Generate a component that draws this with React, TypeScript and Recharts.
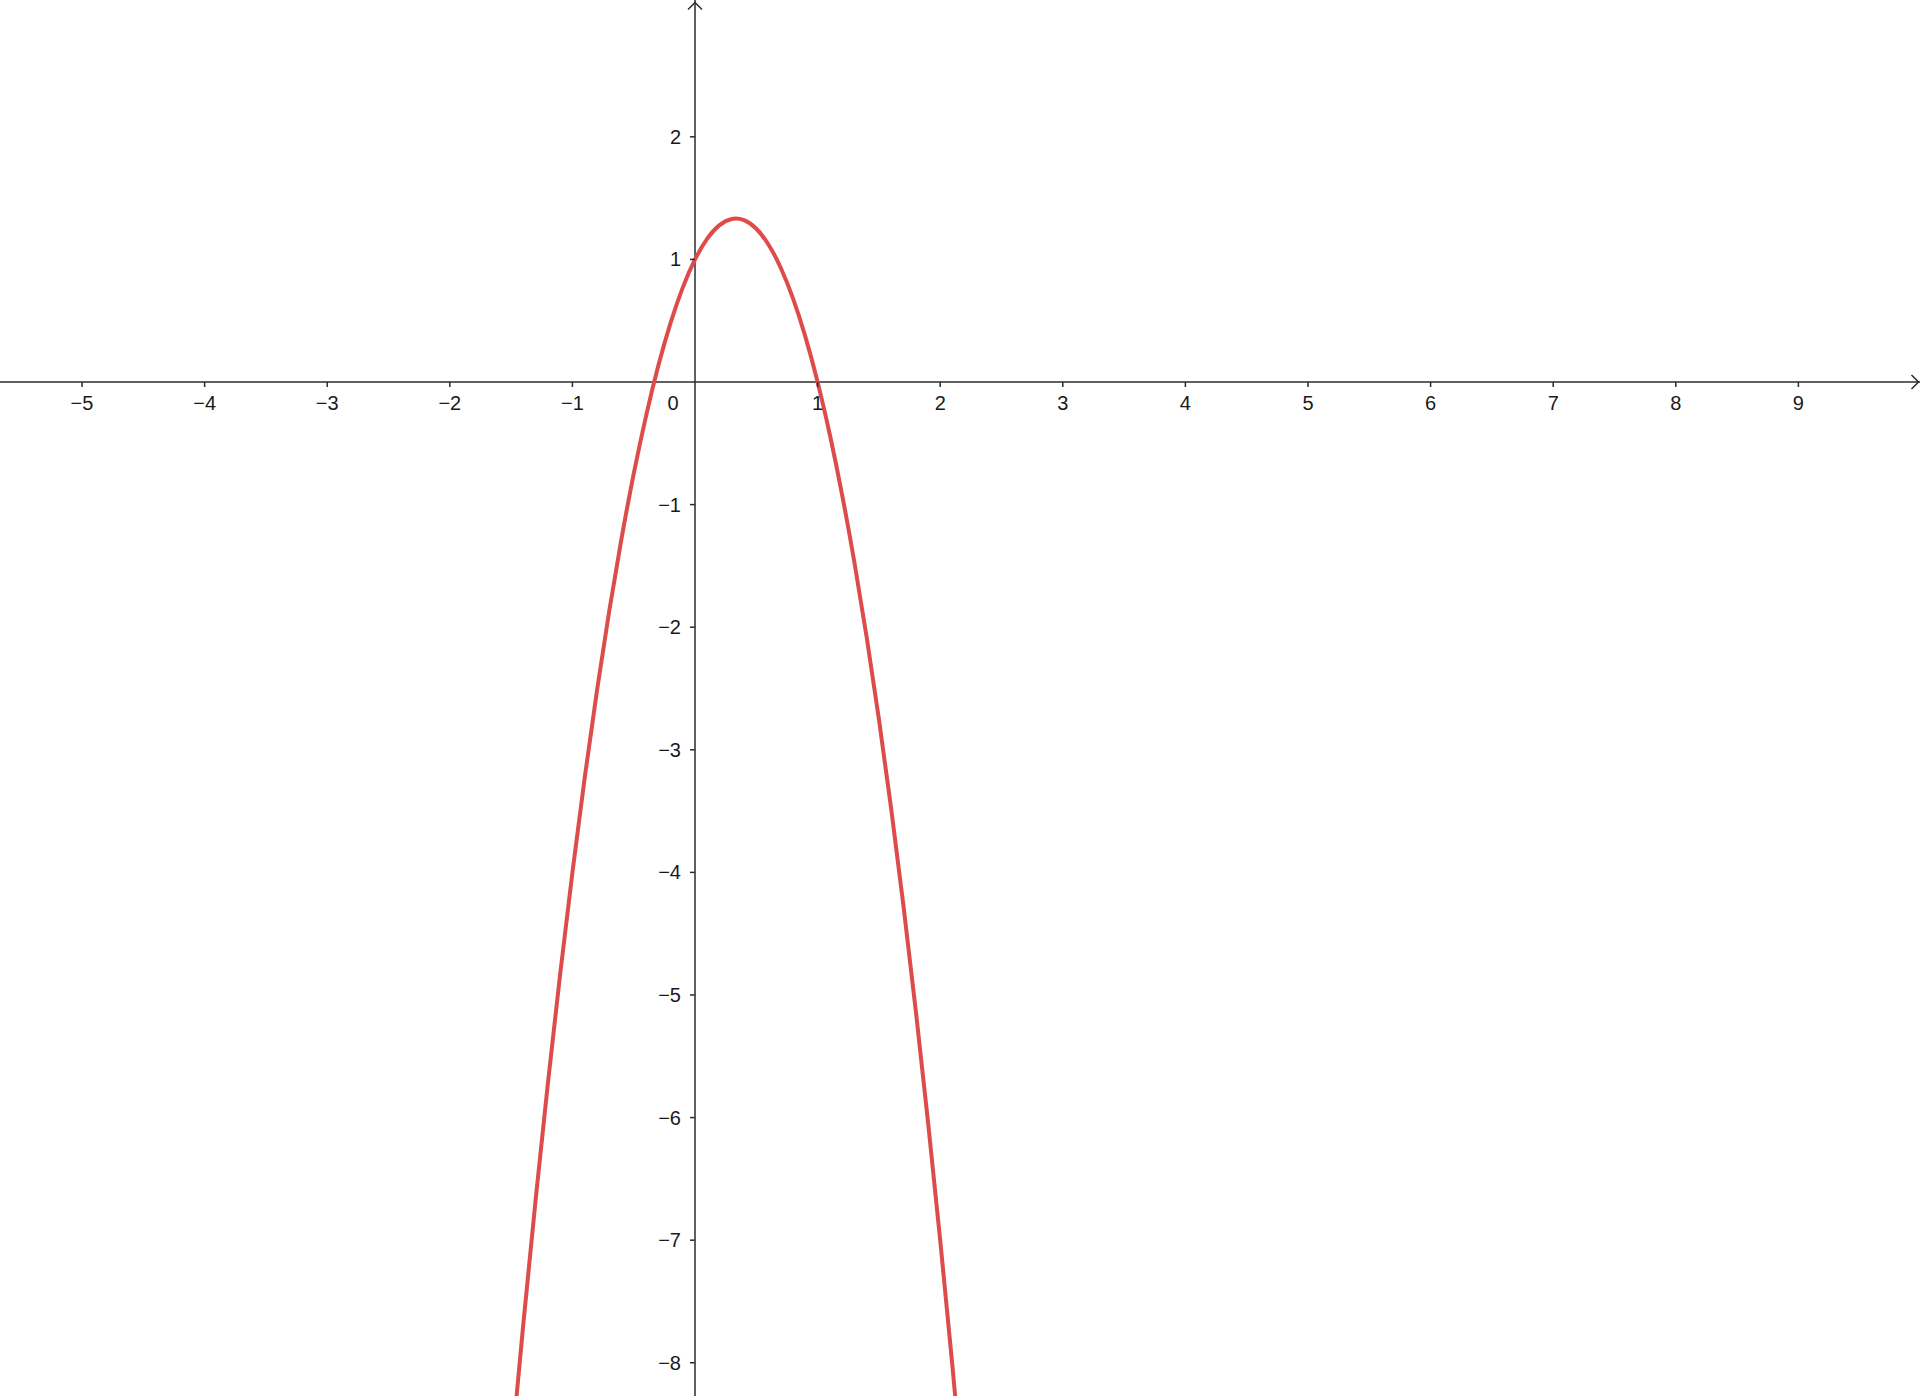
import React from "react";
import { LineChart, Line, XAxis, YAxis, ReferenceLine, ReferenceDot } from "recharts";

const curveX = [-1.5, -1.4, -1.3, -1.2, -1.1, -1.0, -0.9, -0.8, -0.7, -0.6, -0.5, -0.4, -0.3, -0.2, -0.1, 0, 0.1, 0.2, 0.3, 0.4, 0.5, 0.6, 0.7, 0.8, 0.9, 1.0, 1.1, 1.2, 1.3, 1.4, 1.5, 1.6, 1.7, 1.8, 1.9, 2.0, 2.1, 2.2];
const curveY = [-8.75, -7.68, -6.67, -5.72, -4.83, -4.0, -3.23, -2.52, -1.87, -1.28, -0.75, -0.28, 0.13, 0.48, 0.77, 1.0, 1.17, 1.28, 1.33, 1.32, 1.25, 1.12, 0.93, 0.68, 0.37, 0.0, -0.43, -0.92, -1.47, -2.08, -2.75, -3.48, -4.27, -5.12, -6.03, -7.0, -8.03, -9.12];

const xTicks = [-5, -4, -3, -2, -1, 1, 2, 3, 4, 5, 6, 7, 8, 9];
const yTicks = [2, 1, -1, -2, -3, -4, -5, -6, -7, -8];

const xDomain = [-5.669, 9.992];
const yDomain = [-8.271, 3.116];

const data = curveX.map((x, i) => ({ x, y: curveY[i] }));

const AXIS = "#2b2b2b";
const TEXT = "#1a1a1a";
const FONT = "'Liberation Sans', Arial, Helvetica, sans-serif";

const fmt = (v: number) => (v < 0 ? "\u2212" + Math.abs(v) : String(v));

const XTick = (label: string) => (props: any) => {
  const { cx, cy } = props;
  return (
    <g>
      <line x1={cx} y1={cy} x2={cx} y2={cy + 5} stroke={AXIS} strokeWidth={1.5} />
      <text x={cx} y={cy + 28} textAnchor="middle" fontSize={20} fontFamily={FONT} fill={TEXT}>
        {label}
      </text>
    </g>
  );
};

const YTick = (label: string) => (props: any) => {
  const { cx, cy } = props;
  return (
    <g>
      <line x1={cx - 5} y1={cy} x2={cx} y2={cy} stroke={AXIS} strokeWidth={1.5} />
      <text x={cx - 14} y={cy + 7} textAnchor="end" fontSize={20} fontFamily={FONT} fill={TEXT}>
        {label}
      </text>
    </g>
  );
};

const OriginLabel = (props: any) => {
  const { cx, cy } = props;
  return (
    <text x={cx - 22} y={cy + 28} textAnchor="middle" fontSize={20} fontFamily={FONT} fill={TEXT}>
      0
    </text>
  );
};

const RightArrow = (props: any) => {
  const { cx, cy } = props;
  const tx = cx - 1.5;
  return (
    <polyline
      points={`${tx - 7},${cy - 7} ${tx},${cy} ${tx - 7},${cy + 7}`}
      fill="none"
      stroke={AXIS}
      strokeWidth={1.5}
    />
  );
};

const UpArrow = (props: any) => {
  const { cx, cy } = props;
  const ty = cy + 2.5;
  return (
    <polyline
      points={`${cx - 7},${ty + 7} ${cx},${ty} ${cx + 7},${ty + 7}`}
      fill="none"
      stroke={AXIS}
      strokeWidth={1.5}
    />
  );
};

export default function App() {
  return (
    <div style={{ position: "absolute", left: 0, top: 0, width: 1920, height: 1396, background: "#fff" }}>
      <LineChart width={1920} height={1396} data={data} margin={{ top: 0, right: 0, bottom: 0, left: 0 }}>
        <XAxis type="number" dataKey="x" domain={xDomain} allowDataOverflow hide />
        <YAxis type="number" domain={yDomain} allowDataOverflow hide />
        <ReferenceLine x={0} stroke={AXIS} strokeWidth={1.5} ifOverflow="visible" segment={[{ x: 0, y: yDomain[0] }, { x: 0, y: yDomain[1] - 0.02 }]} />
        <ReferenceLine y={0} stroke={AXIS} strokeWidth={1.5} ifOverflow="visible" segment={[{ x: xDomain[0], y: 0 }, { x: xDomain[1] - 0.01, y: 0 }]} />
        {xTicks.map((t) => (
          <ReferenceDot key={"x" + t} x={t} y={0} ifOverflow="visible" shape={XTick(fmt(t))} />
        ))}
        {yTicks.map((t) => (
          <ReferenceDot key={"y" + t} x={0} y={t} ifOverflow="visible" shape={YTick(fmt(t))} />
        ))}
        <ReferenceDot x={0} y={0} ifOverflow="visible" shape={OriginLabel} />
        <ReferenceDot x={xDomain[1]} y={0} ifOverflow="visible" shape={RightArrow} />
        <ReferenceDot x={0} y={yDomain[1]} ifOverflow="visible" shape={UpArrow} />
        <Line
          type="natural"
          dataKey="y"
          stroke="#dd4b4b"
          strokeWidth={4}
          dot={false}
          activeDot={false}
          isAnimationActive={false}
        />
      </LineChart>
    </div>
  );
}
